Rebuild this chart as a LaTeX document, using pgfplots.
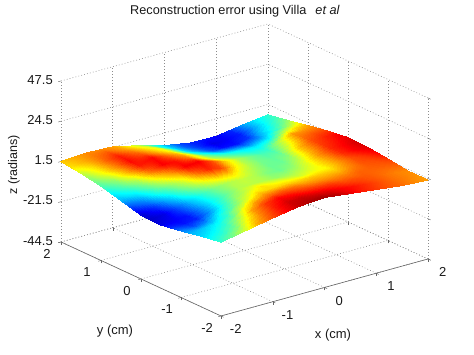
\documentclass[border=0pt]{standalone}
\usepackage{fontspec}
\setmainfont{Liberation Sans}
\usepackage{pgfplots}
\usepgfplotslibrary{patchplots}
\pgfplotsset{compat=1.18}
\pgfplotstableread{
x y z m
-2 2 1.5 .68
-1.75 2 1.9 .71
-1.5 2 2.3 .74
-1.25 2 2 .74
-1 2 1.7 .72
-.75 2 0 .63
-.5 2 -1.7 .55
-.25 2 -3.7 .43
0 2 -5.7 .31
.25 2 -7 .2
.5 2 -8.3 .16
.75 2 -8.5 .14
1 2 -8.6 .12
1.25 2 -7.5 .16
1.5 2 -6.3 .28
1.75 2 -5.4 .36
2 2 -4.5 .42
-2 1.75 .75 .65
-1.75 1.75 1.7 .7
-1.5 1.75 2.65 .76
-1.25 1.75 2.75 .8
-1 1.75 2.85 .72
-.75 1.75 1.5 .66
-.5 1.75 .15 .58
-.25 1.75 -2.35 .42
0 1.75 -4.85 .32
.25 1.75 -6.5 .22
.5 1.75 -8.15 .17
.75 1.75 -8.2 .1
1 1.75 -8.3 .12
1.25 1.75 -7 .15
1.5 1.75 -5.65 .27
1.75 1.75 -4.55 .38
2 1.75 -3.45 .45
-2 1.5 0 .57
-1.75 1.5 1.5 .66
-1.5 1.5 3 .78
-1.25 1.5 3.5 .85
-1 1.5 4 .76
-.75 1.5 3 .68
-.5 1.5 2 .6
-.25 1.5 -1 .5
0 1.5 -4 .36
.25 1.5 -6 .28
.5 1.5 -8 .22
.75 1.5 -8 .14
1 1.5 -8 .14
1.25 1.5 -6.5 .18
1.5 1.5 -5 .33
1.75 1.5 -3.7 .42
2 1.5 -2.4 .52
-2 1.25 -1 .5
-1.75 1.25 .5 .62
-1.5 1.25 2 .74
-1.25 1.25 3.5 .87
-1 1.25 5 .8
-.75 1.25 4 .72
-.5 1.25 2.9 .63
-.25 1.25 .15 .48
0 1.25 -2.6 .42
.25 1.25 -4.25 .34
.5 1.25 -5.9 .3
.75 1.25 -5.95 .26
1 1.25 -6 .24
1.25 1.25 -4 .27
1.5 1.25 -2 .38
1.75 1.25 -1.6 .5
2 1.25 -1.2 .63
-2 1 -2 .45
-1.75 1 -.5 .53
-1.5 1 1 .68
-1.25 1 3.5 .85
-1 1 6 .87
-.75 1 4.9 .78
-.5 1 3.8 .7
-.25 1 1.3 .62
0 1 -1.2 .5
.25 1 -2.5 .42
.5 1 -3.8 .4
.75 1 -3.9 .36
1 1 -4 .36
1.25 1 -1.5 .37
1.5 1 1 .52
1.75 1 .5 .66
2 1 0 .72
-2 .75 -3.5 .37
-1.75 .75 -1.75 .46
-1.5 .75 0 .56
-1.25 .75 2.4 .75
-1 .75 4.75 .88
-.75 .75 4.6 .86
-.5 .75 4.4 .76
-.25 .75 2.15 .62
0 .75 -.1 .56
.25 .75 -1.1 .49
.5 .75 -2.15 .45
.75 .75 -2.6 .41
1 .75 -3 .42
1.25 .75 -.5 .55
1.5 .75 2 .72
1.75 .75 1.5 .74
2 .75 1.05 .77
-2 .5 -5 .3
-1.75 .5 -3 .37
-1.5 .5 -1 .48
-1.25 .5 1.25 .62
-1 .5 3.5 .76
-.75 .5 4.25 .88
-.5 .5 5 .88
-.25 .5 3 .8
0 .5 1 .68
.25 .5 .25 .55
.5 .5 -.5 .49
.75 .5 -1.25 .45
1 .5 -2 .46
1.25 .5 .5 .6
1.5 .5 3 .76
1.75 .5 2.55 .8
2 .5 2.1 .82
-2 .25 -6.5 .18
-1.75 .25 -4.4 .27
-1.5 .25 -2.25 .4
-1.25 .25 -.25 .5
-1 .25 1.75 .62
-.75 .25 2.5 .75
-.5 .25 3.25 .84
-.25 .25 2 .8
0 .25 .75 .64
.25 .25 .1 .55
.5 .25 -.5 .49
.75 .25 -.75 .47
1 .25 -1 .5
1.25 .25 1.25 .68
1.5 .25 3.5 .8
1.75 .25 3.2 .84
2 .25 2.9 .88
-2 0 -8 .08
-1.75 0 -5.75 .17
-1.5 0 -3.5 .3
-1.25 0 -1.75 .42
-1 0 0 .52
-.75 0 .75 .6
-.5 0 1.5 .67
-.25 0 1 .66
0 0 .5 .58
.25 0 0 .53
.5 0 -.5 .48
.75 0 -.25 .48
1 0 0 .55
1.25 0 2 .7
1.5 0 4 .82
1.75 0 3.85 .86
2 0 3.7 .9
-2 -.25 -8.2 .07
-1.75 -.25 -6.85 .1
-1.5 -.25 -5.5 .2
-1.25 -.25 -3.5 .32
-1 -.25 -1.5 .42
-.75 -.25 -.25 .5
-.5 -.25 1 .55
-.25 -.25 .75 .57
0 -.25 .5 .55
.25 -.25 .1 .5
.5 -.25 -.25 .48
.75 -.25 .1 .52
1 -.25 .5 .6
1.25 -.25 2.4 .73
1.5 -.25 4.25 .84
1.75 -.25 3.9 .88
2 -.25 3.5 .92
-2 -.5 -8.4 .1
-1.75 -.5 -8 .12
-1.5 -.5 -7.5 .14
-1.25 -.5 -5.25 .26
-1 -.5 -3 .38
-.75 -.5 -1.25 .47
-.5 -.5 .5 .55
-.25 -.5 .5 .56
0 -.5 .5 .55
.25 -.5 .25 .52
.5 -.5 0 .54
.75 -.5 .5 .57
1 -.5 1 .62
1.25 -.5 2.75 .72
1.5 -.5 4.5 .84
1.75 -.5 3.9 .88
2 -.5 3.3 .9
-2 -.75 -7.45 .17
-1.75 -.75 -7 .14
-1.5 -.75 -6.5 .16
-1.25 -.75 -4.4 .27
-1 -.75 -2.25 .41
-.75 -.75 -.25 .52
-.5 -.75 1.75 .58
-.25 -.75 2 .65
0 -.75 2.25 .6
.25 -.75 2 .6
.5 -.75 1.75 .58
.75 -.75 2 .62
1 -.75 2.25 .63
1.25 -.75 3.1 .72
1.5 -.75 4 .8
1.75 -.75 3.3 .83
2 -.75 2.65 .87
-2 -1 -6.5 .25
-1.75 -1 -6 .2
-1.5 -1 -5.5 .26
-1.25 -1 -3.5 .38
-1 -1 -1.5 .47
-.75 -1 .75 .58
-.5 -1 3 .67
-.25 -1 3.5 .66
0 -1 4 .66
.25 -1 3.75 .66
.5 -1 3.5 .68
.75 -1 3.5 .68
1 -1 3.5 .68
1.25 -1 3.5 .74
1.5 -1 3.5 .79
1.75 -1 2.75 .8
2 -1 2 .82
-2 -1.25 -5.35 .3
-1.75 -1.25 -4.55 .32
-1.5 -1.25 -3.75 .37
-1.25 -1.25 -1.6 .44
-1 -1.25 .5 .6
-.75 -1.25 2.4 .72
-.5 -1.25 4.25 .76
-.25 -1.25 4.6 .78
0 -1.25 5 .76
.25 -1.25 4.6 .74
.5 -1.25 4.25 .74
.75 -1.25 4 .74
1 -1.25 3.75 .75
1.25 -1.25 3.4 .78
1.5 -1.25 3 .78
1.75 -1.25 2.1 .78
2 -1.25 1.2 .78
-2 -1.5 -4.2 .33
-1.75 -1.5 -3.1 .37
-1.5 -1.5 -2 .43
-1.25 -1.5 .25 .55
-1 -1.5 2.5 .72
-.75 -1.5 4 .82
-.5 -1.5 5.5 .87
-.25 -1.5 5.75 .85
0 -1.5 6 .82
.25 -1.5 5.5 .82
.5 -1.5 5 .82
.75 -1.5 4.5 .8
1 -1.5 4 .8
1.25 -1.5 3.25 .79
1.5 -1.5 2.5 .77
1.75 -1.5 1.45 .75
2 -1.5 .4 .74
-2 -1.75 -3.25 .38
-1.75 -1.75 -2 .42
-1.5 -1.75 -.75 .5
-1.25 -1.75 1.1 .65
-1 -1.75 2.9 .76
-.75 -1.75 4.3 .85
-.5 -1.75 5.65 .92
-.25 -1.75 6.05 .93
0 -1.75 6.45 .9
.25 -1.75 5.75 .9
.5 -1.75 5.05 .88
.75 -1.75 4.35 .86
1 -1.75 3.65 .83
1.25 -1.75 2.8 .8
1.5 -1.75 2 .77
1.75 -1.75 1.25 .75
2 -1.75 .5 .73
-2 -2 -2.3 .42
-1.75 -2 -.9 .5
-1.5 -2 .5 .6
-1.25 -2 1.9 .72
-1 -2 3.3 .8
-.75 -2 4.55 .87
-.5 -2 5.8 .93
-.25 -2 6.35 .96
0 -2 6.9 .97
.25 -2 6 .95
.5 -2 5.1 .9
.75 -2 4.2 .85
1 -2 3.3 .82
1.25 -2 2.4 .79
1.5 -2 1.5 .77
1.75 -2 1.05 .74
2 -2 .6 .72
}\surfdata
\begin{document}
\begin{tikzpicture}
\path[use as bounding box] (0,0) rectangle (474pt,355pt);
\begin{axis}[
  anchor=origin, at={(244.5pt,182.4pt)},
  x={(51.75pt,14.25pt)}, y={(-40pt,18.5pt)}, z={(0pt,1.75pt)},
  xmin=-2,xmax=2,ymin=-2,ymax=2,zmin=-44.5,zmax=47.5,
  xtick={-2,-1,0,1,2}, ytick={-2,-1,0,1,2}, ztick={-44.5,-21.5,1.5,24.5,47.5},
  zticklabels={-44.5,-21.5,1.5,24.5,47.5},
  xticklabels={-2,-1,0,1,2}, yticklabels={-2,-1,0,1,2},
  grid=major,
  grid style={dash pattern=on 0.8pt off 2.2pt, black!45, line width=0.6pt},
  axis line style={draw=none},
  tick style={black!60, line width=0.4pt},
  major tick length=3pt,
  tick align=outside,
  xtick pos=lower, ytick pos=lower, ztick pos=left,
  colormap/jet, point meta min=0, point meta max=1,
  clip=false,
  ticklabel style={font=\fontsize{13}{13}\selectfont, text=black!90},
  xticklabel style={anchor=center, xshift=12pt, yshift=-12pt},
  yticklabel style={anchor=center, xshift=-11pt, yshift=-11pt},
  zticklabel style={anchor=east, xshift=-2pt},
  /pgf/number format/assume math mode=true,
]
\addplot3[surf, patch type=bilinear, shader=interp, mesh/cols=17, point meta=\thisrow{m}] table[x=x,y=y,z=z] {\surfdata};
\addplot3[black!60, line width=0.6pt, no marks] coordinates {(-2,2,-44.5) (-2,-2,-44.5) (2,-2,-44.5)};
\end{axis}
\path[use as bounding box] (0,0) rectangle (474pt,355pt);
\node[font=\fontsize{12.7}{13}\selectfont, text=black!90] at (235pt,344pt) {Reconstruction error using Villa\hspace{9pt}\textit{et al}};
\node[font=\fontsize{13}{13}\selectfont, text=black!90] at (333pt,20pt) {x (cm)};
\node[font=\fontsize{13}{13}\selectfont, text=black!90] at (115pt,24pt) {y (cm)};
\node[font=\fontsize{12.5}{13}\selectfont, text=black!90, rotate=90] at (14pt,190pt) {z (radians)};
\end{tikzpicture}
\end{document}
